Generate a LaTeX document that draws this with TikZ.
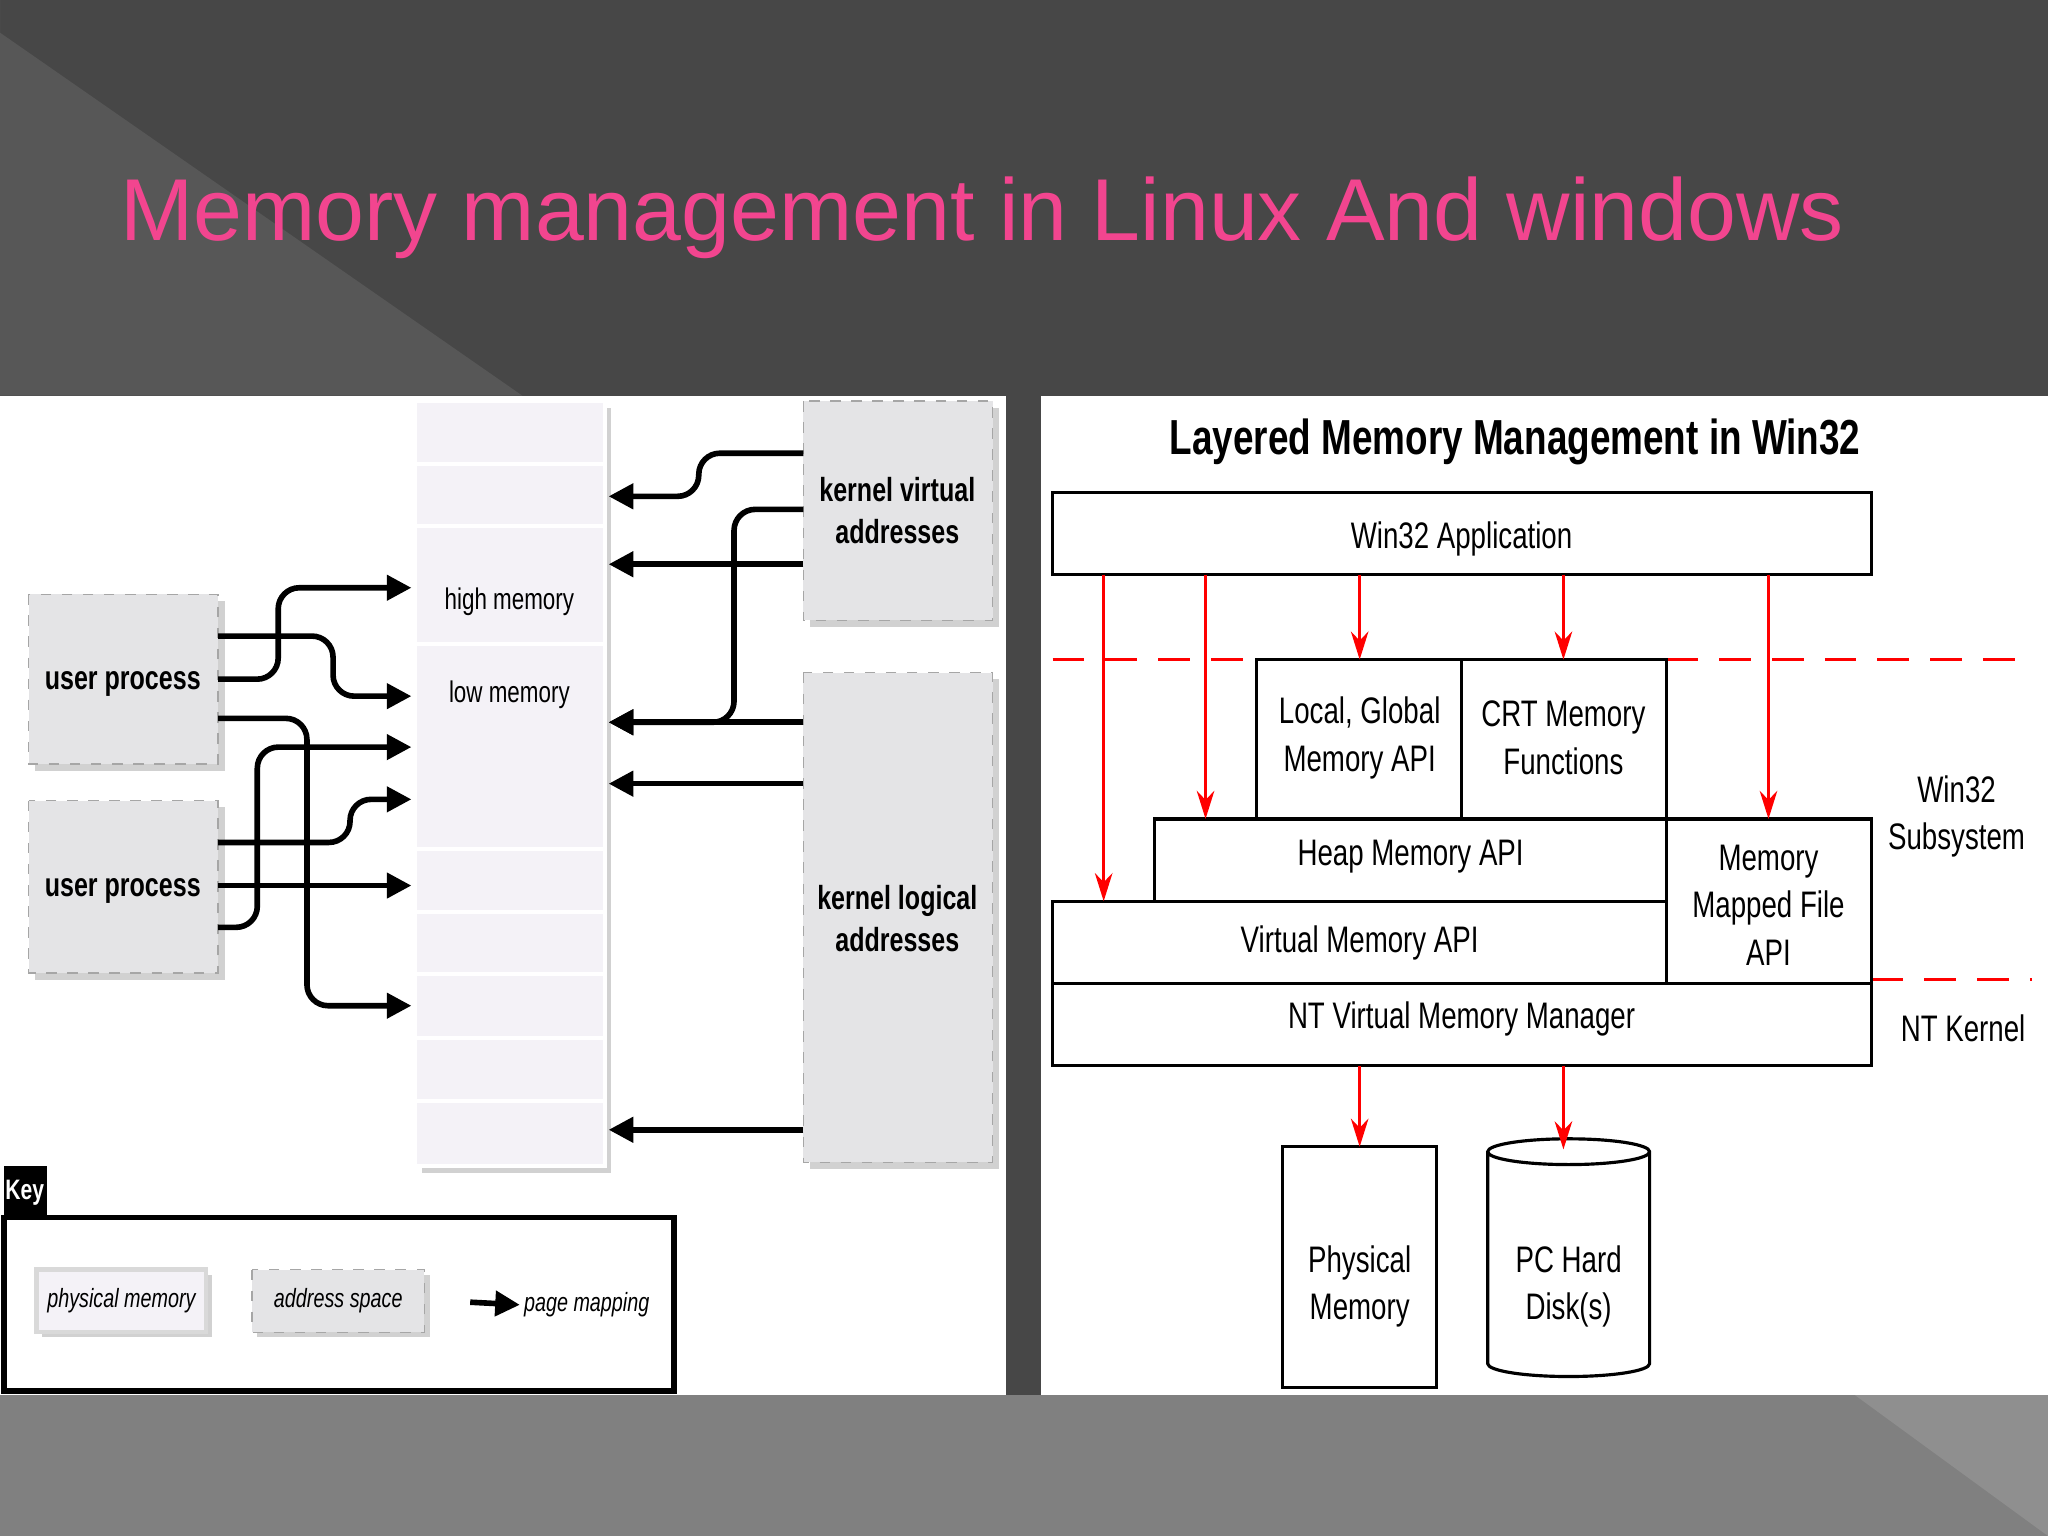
\documentclass[tikz,border=0pt]{standalone}
\usepackage{fontspec}
\setmainfont{Liberation Sans}
\newfontfamily\narrow{Liberation Sans}[FakeStretch=0.75]
\usetikzlibrary{shapes.geometric,arrows.meta}
\definecolor{slidepink}{HTML}{F2458F}
\definecolor{memfill}{HTML}{F4F2F7}
\definecolor{spacefill}{HTML}{E4E4E6}
\begin{document}
\begin{tikzpicture}[x=0.013061cm,y=-0.013061cm,
    memcell/.style={draw=white,line width=1.2pt,fill=memfill},
    space/.style={draw=gray!70,dashed,fill=spacefill},
    shade/.style={fill=black!18},
    map/.style={line width=1.6pt,-{Triangle[length=7pt,width=7pt]},rounded corners=6pt},
    layer/.style={draw,line width=0.9pt,fill=white},
    lbl/.style={font=\narrow\fontsize{10.5}{13.5}\selectfont,align=center},
    bold/.style={font=\narrow\bfseries\fontsize{9.5}{12}\selectfont,align=center},
    small/.style={font=\narrow\fontsize{8.5}{10}\selectfont},
    redarrow/.style={red,line width=0.8pt,-{Stealth[length=8pt,width=5pt]}},
    reddash/.style={red,line width=1pt,dash pattern=on 9pt off 6pt}]
% background
\useasboundingbox (0,0) rectangle (1568,1176);
\fill[black!72] (0,0) rectangle (1568,1176);
\fill[black!66] (0,0) -- (0,303) -- (400,303) -- (0,25) -- cycle;
\fill[black!50] (0,1068) rectangle (1568,1176);
\fill[black!44] (1420,1068) -- (1568,1176) -- (1568,1068) -- cycle;
\node[text=slidepink,font=\fontsize{25}{30}\selectfont] (title) at (752,167) {Memory management in Linux And windows};
% panels
\fill[white] (0,303) rectangle (770,1068);
\fill[white] (797,303) rectangle (1568,1068);
% linux: physical memory column
\fill[shade] (323,312) rectangle (468,898);
\foreach \ya/\yb in {307/355,355/403,403/493,493/650,650/698,698/746,746/795,795/843,843/893}
  \draw[memcell] (318,\ya) rectangle (463,\yb);
\node[small] (high) at (390,461) {high memory};
\node[small] (low) at (390,532) {low memory};
% address spaces
\foreach \x/\ya/\yb in {615/307/475,615/515/890,22/455/585,22/613/745}{
  \fill[shade] (\x+5,\ya+5) rectangle (\x+150,\yb+5);
  \draw[space] (\x,\ya) rectangle (\x+145,\yb);}
\node[bold] (kva) at (687,391) {kernel virtual\\addresses};
\node[bold] (kla) at (687,703) {kernel logical\\addresses};
\node[bold] (up1) at (94,524) {user process};
\node[bold] (up2) at (94,682) {user process};
% page mappings
\draw[map] (615,347) -- (535,347) -- (535,380) -- (466,380);
\draw[map] (615,390) -- (562,390) -- (562,553) -- (466,553);
\draw[map] (615,432) -- (466,432);
\draw[map] (615,553) -- (466,553);
\draw[map] (615,600) -- (466,600);
\draw[map] (615,865) -- (466,865);
\draw[map] (167,520) -- (213,520) -- (213,450) -- (315,450);
\draw[map] (167,487) -- (255,487) -- (255,533) -- (315,533);
\draw[map] (167,550) -- (235,550) -- (235,770) -- (315,770);
\draw[map] (167,645) -- (268,645) -- (268,612) -- (315,612);
\draw[map] (167,678) -- (315,678);
\draw[map] (167,710) -- (197,710) -- (197,572) -- (315,572);
% key
\fill[black] (3,893) rectangle (36,932);
\node[text=white,font=\narrow\bfseries\fontsize{8}{10}\selectfont] (key) at (19,913) {Key};
\draw[line width=1.5pt] (3,932) rectangle (516,1065);
\fill[shade] (32,976) rectangle (162,1024);
\draw[memcell,draw=gray!30] (28,972) rectangle (158,1020);
\node[small,font=\narrow\itshape\fontsize{7.5}{9}\selectfont] (kphys) at (93,996) {physical memory};
\fill[shade] (197,976) rectangle (329,1024);
\draw[space] (193,972) rectangle (325,1020);
\node[small,font=\narrow\itshape\fontsize{7.5}{9}\selectfont] (kspace) at (259,996) {address space};
\coordinate (ka) at (360,997);
\node[small,font=\narrow\itshape\fontsize{7.5}{9}\selectfont,anchor=west,inner sep=1pt] (kmap) at (398,999) {page mapping};
\draw[map] (ka) -- (kmap.west);
% windows
\node[font=\narrow\bfseries\fontsize{14}{17}\selectfont] (wtitle) at (1160,338) {Layered Memory Management in Win32};
\draw[reddash] (806,505) -- (962,505);
\draw[reddash] (1276,505) -- (1556,505);
\draw[reddash] (1433,750) -- (1556,750);
\draw[layer] (806,377) rectangle (1433,440);
\node[lbl] (app) at (1119,413) {Win32 Application};
\draw[layer] (962,505) rectangle (1119,627);
\node[lbl] (lg) at (1041,565) {Local, Global\\Memory API};
\draw[layer] (1119,505) rectangle (1276,627);
\node[lbl] (crt) at (1197,565) {CRT Memory\\Functions};
\draw[layer] (884,627) rectangle (1276,690);
\node[lbl] (heap) at (1080,656) {Heap Memory API};
\draw[layer] (1276,627) rectangle (1433,753);
\node[lbl] (mmf) at (1354,693) {Memory\\Mapped File\\API};
\draw[layer] (806,690) rectangle (1276,753);
\node[lbl] (vm) at (1041,722) {Virtual Memory API};
\draw[layer] (806,753) rectangle (1433,816);
\node[lbl] (nt) at (1119,780) {NT Virtual Memory Manager};
\draw[layer] (982,878) rectangle (1100,1062);
\node[lbl] (phys) at (1041,985) {Physical\\Memory};
\node[draw,line width=0.9pt,cylinder,shape border rotate=90,aspect=1.1,minimum width=124*0.013061cm,minimum height=182*0.013061cm] (disk) at (1201,971) {};
\node[lbl] (disktxt) at (1201,985) {PC Hard\\Disk(s)};
\node[lbl] (sub) at (1498,625) {Win32\\Subsystem};
\node[lbl] (kern) at (1503,787) {NT Kernel};
\coordinate (disktop) at (1197,880);
\draw[redarrow] (845,440) -- (845,690);
\draw[redarrow] (923,440) -- (923,627);
\draw[redarrow] (1041,440) -- (1041,505);
\draw[redarrow] (1197,440) -- (1197,505);
\draw[redarrow] (1354,440) -- (1354,627);
\draw[redarrow] (1041,816) -- (1041,878);
\draw[redarrow] (1197,816) -- (disktop);
\end{tikzpicture}
\end{document}
